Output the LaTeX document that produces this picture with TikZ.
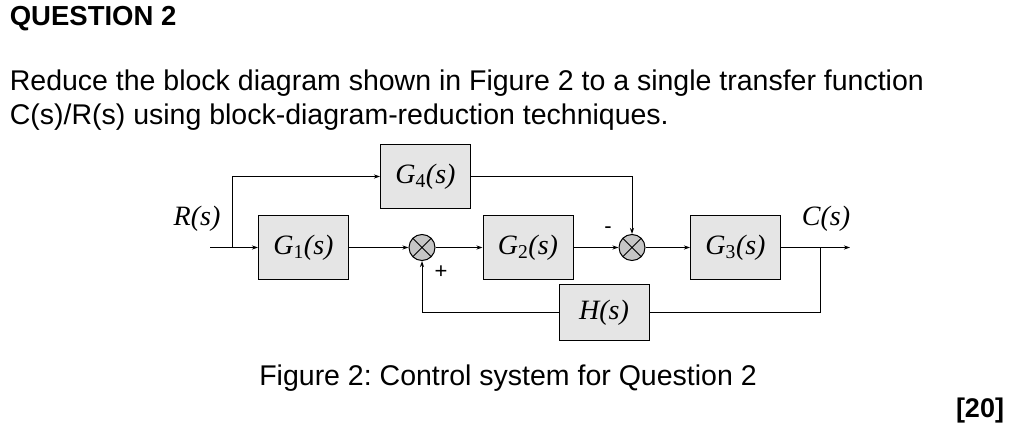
\documentclass[tikz,border=0pt]{standalone}
\usepackage{fontspec}
\setmainfont{Liberation Sans}
\newfontfamily\tnr{Liberation Serif}
\usetikzlibrary{arrows.meta}
\frenchspacing
\begin{document}
\begin{tikzpicture}[x=1pt,y=-1pt,line width=1pt,
  blk/.style={draw,fill=gray!20,minimum width=90pt,minimum height=64pt,inner sep=0pt,font=\tnr\fontsize{28}{28}\selectfont\itshape},
  sum/.style={draw,circle,fill=gray!45,minimum size=26pt,inner sep=0pt,path picture={\draw (path picture bounding box.north west)--(path picture bounding box.south east) (path picture bounding box.north east)--(path picture bounding box.south west);}},
  ar/.style={-{Stealth[length=6pt,width=4pt]}},
  txt/.style={anchor=west,font=\fontsize{28.5}{28.5}\selectfont},
  lbl/.style={font=\tnr\fontsize{28}{28}\selectfont\itshape}]
\useasboundingbox (0,0) rectangle (1024,435);
\node[txt,font=\bfseries\fontsize{27.5}{27.5}\selectfont] (t) at (6,19) {QUESTION 2};
\node[txt] (l1) at (6,83) {Reduce the block diagram shown in Figure 2 to a single transfer function};
\node[txt] (l2) at (6,117) {C(s)/R(s) using block-diagram-reduction techniques.};
\node[blk] (g4) at (425.5,176.5) {G\textsubscript{\upshape 4}(s)};
\node[blk] (g1) at (303.5,247.5) {G\textsubscript{\upshape 1}(s)};
\node[blk] (g2) at (528,247.5) {G\textsubscript{\upshape 2}(s)};
\node[blk] (g3) at (735.5,247.5) {G\textsubscript{\upshape 3}(s)};
\node[blk,minimum height=55pt] (h) at (604,312.5) {H(s)};
\node[sum] (s1) at (422,247.5) {};
\node[sum] (s2) at (632,247.5) {};
\coordinate (in) at (210,247.5);
\coordinate (br) at (232,247.5);
\coordinate (out) at (850,247.5);
\coordinate (ob) at (820,247.5);
\node[lbl] (R) at (197,219) {R(s)};
\node[lbl] (C) at (826,219) {C(s)};
\draw[ar] (in) -- (g1);
\draw[ar] (br) |- (g4.west);
\draw[ar] (g1) -- (s1);
\draw[ar] (s1) -- (g2);
\draw[ar] (g2) -- (s2);
\draw[ar] (g4.east) -| (s2.north);
\draw[ar] (s2) -- (g3);
\draw[ar] (g3) -- (out);
\draw (ob) |- (h.east);
\draw[ar] (h.west) -| (s1.south);
\node[font=\fontsize{22}{22}\selectfont] (m) at (608,230) {-};
\node[font=\fontsize{22}{22}\selectfont] (p) at (441,272) {+};
\node[font=\fontsize{28.5}{28.5}\selectfont] (cap) at (508,378) {Figure 2: Control system for Question 2};
\node[font=\bfseries\fontsize{27}{27}\selectfont] (n) at (980,411) {[20]};
\end{tikzpicture}
\end{document}
